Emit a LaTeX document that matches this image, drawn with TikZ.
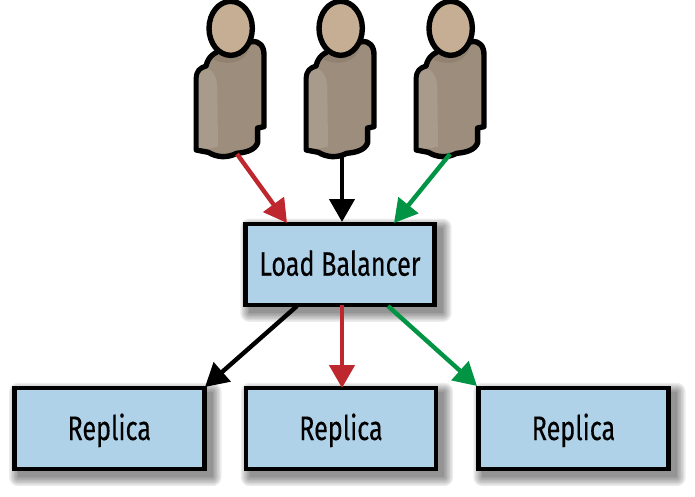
\documentclass[tikz,border=0pt]{standalone}
\usepackage{fontspec}
\setmainfont{Fira Sans}[FakeStretch=0.74,FakeBold=0.25]
\usetikzlibrary{arrows.meta,calc}
\definecolor{boxblue}{HTML}{B0D2E9}
\definecolor{arrred}{HTML}{BE272E}
\definecolor{arrgreen}{HTML}{009444}
\definecolor{skin}{HTML}{C5AE94}
\definecolor{cloth}{HTML}{9D8D7C}
\definecolor{clothlight}{HTML}{A99B8C}
\definecolor{clothdark}{HTML}{918171}
\tikzset{
  box/.style={draw=black,fill=boxblue,line width=4.4pt,minimum height=81pt,inner sep=0pt,
    font=\fontsize{34}{34}\selectfont,text=black,text height=24pt,text depth=1pt},
  conn/.style={line width=4.4pt,-{Triangle[length=23pt,width=25pt]}},
  person/.pic={
    \begin{scope}[scale=1/3,line width=5.4pt,line join=round]
      % body
      \path[fill=cloth,draw=black]
        (215,125) .. controls (240,122) and (252,140) .. (252,165)
        -- (252,380) -- (233,384) -- (233,428)
        .. controls (225,450) and (200,457) .. (170,460)
        .. controls (140,475) and (110,472) .. (85,457)
        -- (49,450) -- (49,235)
        .. controls (50,212) and (60,205) .. (78,198)
        .. controls (85,170) and (100,160) .. (125,150) -- cycle;
      % shading of arm, collar
      \fill[clothlight] (56,235) .. controls (58,215) and (66,210) .. (82,206)
        .. controls (105,215) and (112,240) .. (112,270) -- (114,440)
        -- (85,446) -- (56,443) -- cycle;
      \fill[clothdark] (100,178) .. controls (130,195) and (190,195) .. (206,150)
        .. controls (200,135) and (130,140) .. (100,178) -- cycle;
      % head
      \path[fill=skin,draw=black] (152,85) ellipse [x radius=65,y radius=81];
    \end{scope}
  }
}
\newcommand{\boxshadow}[1]{%
  \foreach \b in {0,1.5,...,9}
    \fill[black,opacity=0.075,rounded corners=\b pt]
      ($(#1.north west)+(6-\b,6-\b)$) rectangle ($(#1.south east)+(6+\b,6+\b)$);
}
\begin{document}
\begin{tikzpicture}[x=1pt,y=-1pt]
  \useasboundingbox (0,0) rectangle (695,496);
  \pic at (180,0) {person};
  \pic at (290,0) {person};
  \pic at (400,0) {person};
  \coordinate (u1) at (237,154);
  \coordinate (u2) at (342,154);
  \coordinate (u3) at (450,154);
  \path (340,264.2) node[box,minimum width=189pt,fill=none,draw=none] (lb) {};
  \path (109.3,428.5) node[box,minimum width=190pt,fill=none,draw=none] (r1) {};
  \path (341,428.5) node[box,minimum width=190pt,fill=none,draw=none] (r2) {};
  \path (573.5,428.5) node[box,minimum width=190pt,fill=none,draw=none] (r3) {};
  \boxshadow{lb}
  \boxshadow{r1}
  \boxshadow{r2}
  \boxshadow{r3}
  \node[box,minimum width=189pt] (lb) at (340,264.2) {Load Balancer};
  \node[box,minimum width=190pt] (r1) at (109.3,428.5) {Replica};
  \node[box,minimum width=190pt] (r2) at (341,428.5) {Replica};
  \node[box,minimum width=190pt] (r3) at (573.5,428.5) {Replica};
  \coordinate (a1) at (287,223);
  \coordinate (a2) at (342,222);
  \coordinate (a3) at (394,223);
  \coordinate (b1) at (297,306);
  \coordinate (b2) at (342,305);
  \coordinate (b3) at (388,306);
  \coordinate (c1) at (205,387);
  \coordinate (c2) at (342,388);
  \coordinate (c3) at (477,386);
  \draw[conn,arrred] (u1) -- (a1);
  \draw[conn,black] (u2) -- (a2);
  \draw[conn,arrgreen] (u3) -- (a3);
  \draw[conn,black] (b1) -- (c1);
  \draw[conn,arrred] (b2) -- (c2);
  \draw[conn,arrgreen] (b3) -- (c3);
\end{tikzpicture}
\end{document}
